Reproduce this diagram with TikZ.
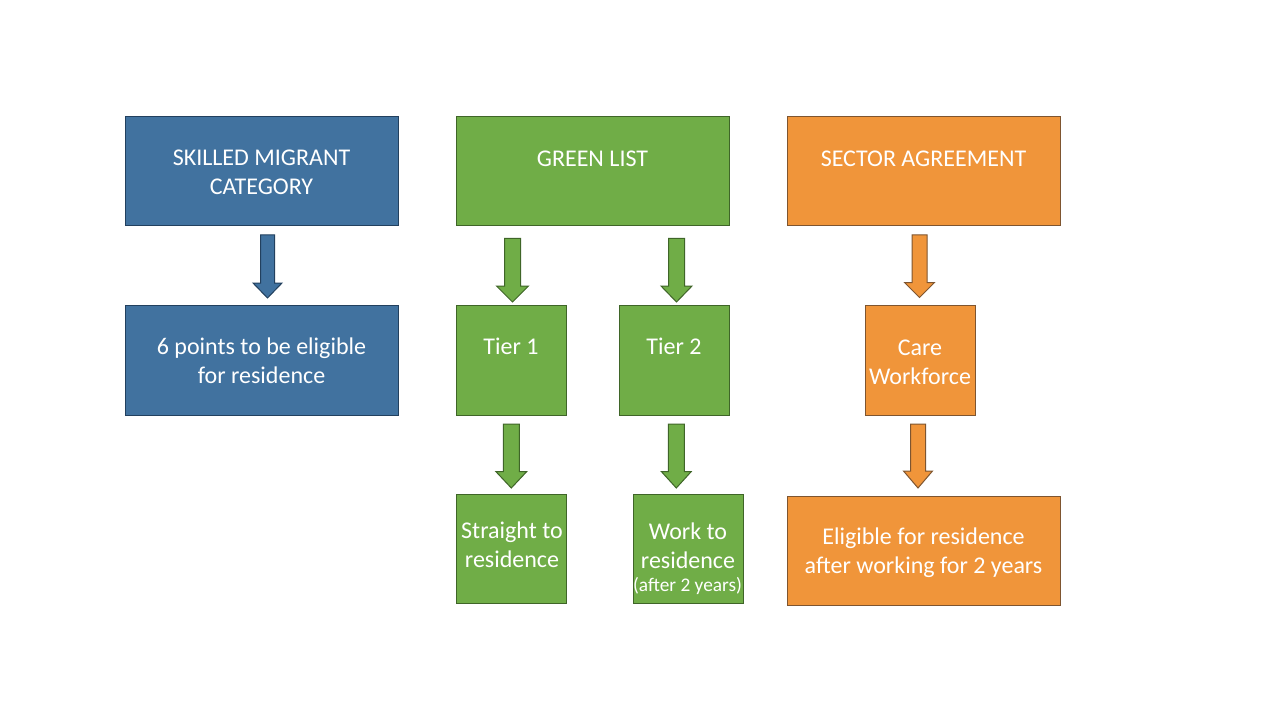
\documentclass[tikz,border=0pt]{standalone}
\usepackage{fontspec}
\setmainfont{Carlito}
\definecolor{bfill}{HTML}{41729F}
\definecolor{bline}{HTML}{22405E}
\definecolor{gfill}{HTML}{70AD47}
\definecolor{gline}{HTML}{3F6528}
\definecolor{ofill}{HTML}{F0953A}
\definecolor{oline}{HTML}{7E5530}
\newcommand\blockarrow[8]{%
  \draw[line width=0.75pt, draw=#8, fill=#7, line join=miter]
    ({#1-#2},#4) -- ({#1+#2},#4) -- ({#1+#2},#5) -- ({#1+#3},#5) -- (#1,#6)
    -- ({#1-#3},#5) -- ({#1-#2},#5) -- cycle;}
\begin{document}
\begin{tikzpicture}[x=0.75pt,y=-0.75pt,
  box/.style={rectangle, draw, line width=0.75pt, inner sep=0pt},
  wide/.style={minimum width=204.75pt, minimum height=81.75pt},
  sq/.style={minimum width=82.5pt, minimum height=82.5pt},
  sqs/.style={minimum width=82.5pt, minimum height=81.75pt},
  bluebox/.style={box, fill=bfill, draw=bline},
  greenbox/.style={box, fill=gfill, draw=gline},
  orangebox/.style={box, fill=ofill, draw=oline},
  lbl/.style={text=white, font=\fontsize{18}{21.6}\selectfont, align=center, inner sep=0pt},
  small/.style={text=white, font=\fontsize{14.5}{17}\selectfont, inner sep=0pt}]
\useasboundingbox (0,0) rectangle (1280,720);
\fill[white] (0,0) rectangle (1280,720);

% boxes
\node[bluebox, wide] (smc) at (261.5,171.5) {};
\node[bluebox, wide, minimum height=82.5pt] (smp) at (261.5,360) {};
\node[greenbox, wide] (gl) at (592.5,171.5) {};
\node[greenbox, sq] (t1) at (511,360) {};
\node[greenbox, sq] (t2) at (674,360) {};
\node[greenbox, sqs] (st) at (511,548.5) {};
\node[greenbox, sqs] (wr) at (688,548.5) {};
\node[orangebox, wide] (sa) at (923.5,171.5) {};
\node[orangebox, sq] (cw) at (920,360) {};
\node[orangebox, wide] (el) at (923.5,550.5) {};

% texts
\node[lbl] (tsmc) at (261.5,172.5) {SKILLED MIGRANT\\CATEGORY};
\node[lbl] (tgl) at (592.5,158.5) {GREEN LIST};
\node[lbl] (tsa) at (923.5,158.5) {SECTOR AGREEMENT};
\node[lbl] (tsmp) at (261.5,361) {6 points to be eligible\\for residence};
\node[lbl] (tt1) at (511,346) {Tier 1};
\node[lbl] (tt2) at (674,346) {Tier 2};
\node[lbl] (tcw) at (920,362) {Care\\Workforce};
\node[lbl] (tst) at (512,544.5) {Straight to\\residence};
\node[lbl] (twr) at (688,546) {Work to\\residence};
\node[small] (twr2) at (687.5,586) {(after 2 years)};
\node[lbl] (tel) at (923.5,552.5) {Eligible for residence\\after working for 2 years};

% block arrows
\blockarrow{267.5}{7}{14.5}{235}{283}{298}{bfill}{bline}
\blockarrow{512.5}{8}{16}{238.5}{286}{302}{gfill}{gline}
\blockarrow{676.5}{8}{15.5}{238.5}{286}{302}{gfill}{gline}
\blockarrow{919.5}{7.5}{15}{235}{282.5}{297.5}{ofill}{oline}
\blockarrow{511.3}{8}{15.5}{424}{471.5}{488}{gfill}{gline}
\blockarrow{676.3}{8}{15}{424}{471.5}{488}{gfill}{gline}
\blockarrow{918}{7.5}{14.5}{424}{471}{488}{ofill}{oline}
\end{tikzpicture}
\end{document}
